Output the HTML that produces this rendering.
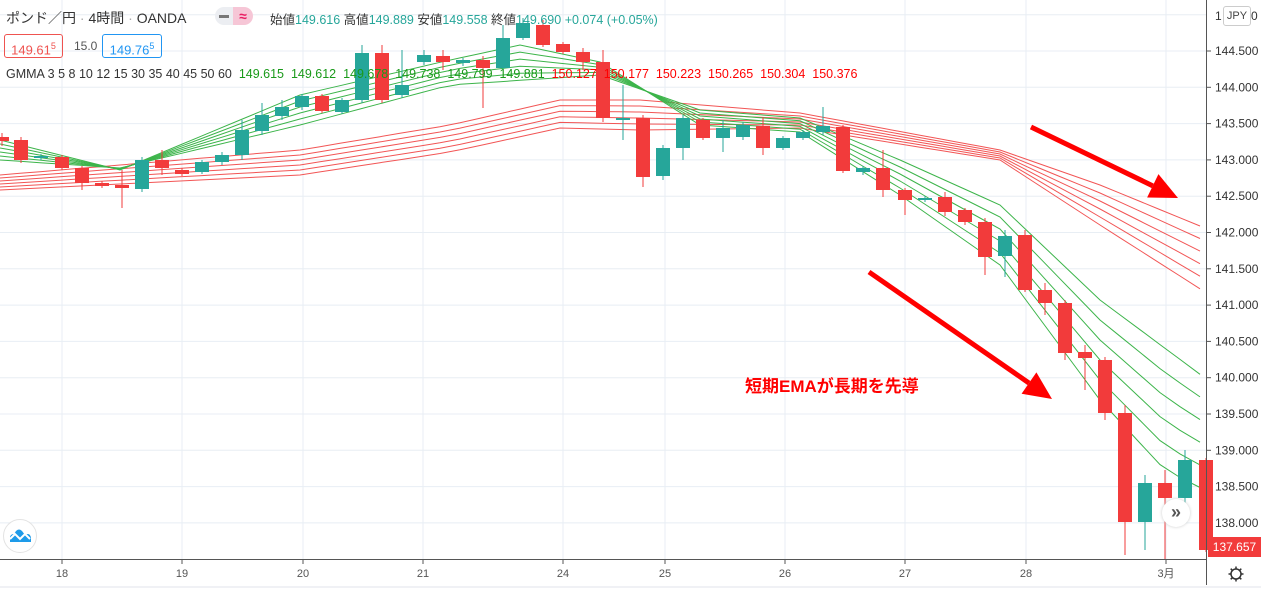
<!DOCTYPE html>
<html><head><meta charset="utf-8"><style>
body{margin:0;width:1261px;height:591px;overflow:hidden;background:#fff;font-family:"Liberation Sans","Noto Sans CJK JP",sans-serif;}
svg{position:absolute;left:0;top:0}
.t{position:absolute;white-space:nowrap}
</style></head><body>
<svg id="s" width="1261" height="591" xmlns="http://www.w3.org/2000/svg"></svg>
<div class="t" style="left:6px;top:8px;font-size:14px;color:#333">ポンド／円 <span style="color:#aaa">·</span> 4時間 <span style="color:#aaa">·</span> OANDA</div>
<div class="t" style="left:215px;top:7px;width:18px;height:18px;background:#eceef2;border-radius:9px 0 0 9px"><div style="margin:8px 4px;width:10px;height:3px;background:#777"></div></div>
<div class="t" style="left:233px;top:7px;width:20px;height:18px;background:#f6c6d6;border-radius:0 9px 9px 0;color:#e91e63;font-size:14px;text-align:center;line-height:18px;font-weight:bold">≈</div>
<div class="t" style="left:270px;top:9px;font-size:12.5px;color:#333">始値<span style="color:#26a69a">149.616</span> 高値<span style="color:#26a69a">149.889</span> 安値<span style="color:#26a69a">149.558</span> 終値<span style="color:#26a69a">149.690 +0.074 (+0.05%)</span></div>
<div class="t" style="left:4px;top:34px;width:57px;height:22px;border:1px solid #ef5350;border-radius:3px;color:#ef5350;font-size:13px;line-height:22px;text-align:center">149.61<sup style="font-size:9px">5</sup></div>
<div class="t" style="left:74px;top:39px;font-size:12px;color:#555">15.0</div>
<div class="t" style="left:102px;top:34px;width:58px;height:22px;border:1px solid #2196f3;border-radius:3px;color:#2196f3;font-size:13px;line-height:22px;text-align:center">149.76<sup style="font-size:9px">5</sup></div>
<div class="t" style="left:6px;top:67px;font-size:12.5px;color:#333">GMMA 3 5 8 10 12 15 30 35 40 45 50 60 &nbsp;<span style="color:#1a9a1a">149.615 &nbsp;149.612 &nbsp;149.678 &nbsp;149.738 &nbsp;149.799 &nbsp;149.881</span> &nbsp;<span style="color:#f00">150.127 &nbsp;150.177 &nbsp;150.223 &nbsp;150.265 &nbsp;150.304 &nbsp;150.376</span></div>
<div class="t" style="left:745px;top:372px;font-size:17px;font-weight:bold;color:#f00">短期EMAが長期を先導</div>
<div class="t" style="left:1223px;top:6px;width:26px;height:18px;border:1px solid #ccc;border-radius:3px;background:#fff;font-size:11px;color:#444;text-align:center;line-height:18px">JPY</div>
<div class="t" style="left:1208px;top:537px;width:53px;height:20px;background:#f23b3b;color:#fff;font-size:12px;line-height:20px;text-align:center">137.657</div>
<div class="t" style="left:1162px;top:499px;width:28px;height:28px;border-radius:14px;background:#fff;box-shadow:0 0 3px #ccc;color:#555;font-size:18px;text-align:center;line-height:26px;font-weight:bold">»</div>
<div class="t" style="left:3px;top:519px;width:32px;height:32px;border-radius:17px;border:1px solid #e3e3e3;background:#fff"><svg width="32" height="32" style="position:absolute;left:0;top:0"><path d="M6,22 L6,18 Q6,14 10,14 L12,11 Q15,8 18,11 L21,15 Q26,12 27,18 L27,22Z" fill="#1e9be9"/><path d="M6,19 L11,14 L16,19 L21,14 L26,19" fill="none" stroke="#fff" stroke-width="2"/></svg></div>
<script>
const s=document.getElementById('s');let h='';
const Y=p=>51+(144.5-p)*72.6;
for(let p=138;p<=145;p+=0.5){const y=Y(p);h+=`<line x1="0" x2="1206" y1="${y}" y2="${y}" stroke="#e8eef4"/>`;
 if(p<145)h+=`<text x="1215" y="${y+4}" font-size="12" fill="#333">${p.toFixed(3)}</text><line x1="1206" x2="1211" y1="${y}" y2="${y}" stroke="#555"/>`;}
h+=`<text x="1215" y="20" font-size="12" fill="#333">1</text><text x="1251" y="20" font-size="12" fill="#333">0</text>`;
const D=[[62,'18'],[182,'19'],[303,'20'],[423,'21'],[563,'24'],[665,'25'],[785,'26'],[905,'27'],[1026,'28'],[1166,'3月']];
D.forEach(d=>{h+=`<line x1="${d[0]}" x2="${d[0]}" y1="0" y2="559" stroke="#e8eef4"/><line x1="${d[0]}" x2="${d[0]}" y1="559" y2="564" stroke="#555"/><text x="${d[0]}" y="577" font-size="11" fill="#555" text-anchor="middle">${d[1]}</text>`;});
function interp(pts,x){for(let i=0;i<pts.length-1;i++){if(x>=pts[i][0]&&x<=pts[i+1][0]){const t=(x-pts[i][0])/(pts[i+1][0]-pts[i][0]);return pts[i][1]+t*(pts[i+1][1]-pts[i][1]);}}return pts[pts.length-1][1];}
function band(a,b,n,col){for(let k=0;k<n;k++){const t=k/(n-1);let d='';for(let x=0;x<=1205;x+=20){const y=interp(a,x)*(1-t)+interp(b,x)*t;d+=(x?'L':'M')+x+','+y.toFixed(1);}
 h+=`<path d="${d}" fill="none" stroke="${col}" stroke-width="1"/>`;}}
band([[0,175],[300,150],[450,125],[560,100],[640,100],[800,113],[1000,150],[1100,185],[1205,228]],[[0,190],[300,175],[450,152],[560,128],[640,130],[800,128],[1000,160],[1100,225],[1205,292]],6,'#f25555');
band([[0,140],[120,170],[300,95],[450,60],[520,45],[600,62],[700,125],[800,132],[900,195],[1000,265],[1100,400],[1165,470],[1205,490]],[[0,160],[120,168],[300,125],[450,85],[600,75],[700,110],[800,118],[900,160],[1000,205],[1100,300],[1205,378]],6,'#3cb44a');
const C=[[2,137,141,133,146,0],[21,140,160,137,163,0],[41,156,158,154,160,1],[62,157,168,155,170,0],[82,168,183,166,190,0],[102,183,186,181,188,0],[122,185,188,170,208,0],[142,160,189,157,192,1],[162,160,168,150,175,0],[182,170,174,168,176,0],[202,162,172,160,174,1],[222,155,162,152,165,1],[242,130,155,120,160,1],[262,115,131,103,135,1],[282,107,116,100,120,1],[302,96,107,94,110,1],[322,96,111,94,113,0],[342,100,112,98,114,1],[362,53,100,45,103,1],[382,53,100,45,103,0],[402,85,95,50,98,1],[424,55,62,50,65,1],[443,56,62,50,70,0],[463,60,63,58,66,1],[483,60,68,56,108,0],[503,38,68,25,70,1],[523,23,38,18,40,1],[543,25,45,20,47,0],[563,44,52,42,54,0],[583,52,62,48,70,0],[603,62,118,50,122,0],[623,118,120,85,140,1],[643,118,177,115,187,0],[663,148,176,145,180,1],[683,118,148,115,160,1],[703,120,138,118,140,0],[723,128,138,120,152,1],[743,125,137,122,140,1],[763,126,148,117,155,0],[783,138,148,136,150,1],[803,132,138,130,140,1],[823,126,132,107,135,1],[843,127,171,125,173,0],[863,168,172,166,175,1],[883,168,190,150,197,0],[905,190,200,188,215,0],[925,198,200,196,202,1],[945,197,212,192,216,0],[965,210,222,208,225,0],[985,222,257,218,275,0],[1005,236,256,230,277,1],[1025,235,290,230,292,0],[1045,290,303,283,315,0],[1065,303,353,300,360,0],[1085,352,358,345,390,0],[1105,360,413,357,420,0],[1125,413,522,405,555,0],[1145,483,522,475,550,1],[1165,483,498,470,560,0],[1185,460,498,450,520,1],[1206,460,550,458,552,0]];
C.forEach(c=>{const col=c[5]?'#26a69a':'#f23b3b';h+=`<line x1="${c[0]}" x2="${c[0]}" y1="${c[3]}" y2="${c[4]}" stroke="${col}"/><rect x="${c[0]-7}" y="${c[1]}" width="14" height="${Math.max(2,c[2]-c[1])}" fill="${col}"/>`;});
function arrow(x1,y1,x2,y2){const a=Math.atan2(y2-y1,x2-x1),L=28,W=13;const bx=x2-L*Math.cos(a),by=y2-L*Math.sin(a);
 h+=`<line x1="${x1}" y1="${y1}" x2="${bx}" y2="${by}" stroke="#f00" stroke-width="5"/><polygon points="${x2},${y2} ${bx-W*Math.sin(a)},${by+W*Math.cos(a)} ${bx+W*Math.sin(a)},${by-W*Math.cos(a)}" fill="#f00"/>`;}
arrow(1031,127,1178,198);arrow(869,272,1052,399);
h+=`<line x1="1206.5" x2="1206.5" y1="0" y2="585" stroke="#555"/><line x1="0" x2="1206" y1="559.5" y2="559.5" stroke="#555"/><line x1="0" x2="1261" y1="587" y2="587" stroke="#e0e3eb"/>`;
h+=`<circle cx="1236" cy="574" r="5" fill="none" stroke="#333" stroke-width="1.5"/>`;
for(let i=0;i<8;i++){const a=i*Math.PI/4;h+=`<line x1="${1236+5*Math.cos(a)}" y1="${574+5*Math.sin(a)}" x2="${1236+7.5*Math.cos(a)}" y2="${574+7.5*Math.sin(a)}" stroke="#333" stroke-width="1.5"/>`;}
s.innerHTML=h;
</script>
</body></html>
